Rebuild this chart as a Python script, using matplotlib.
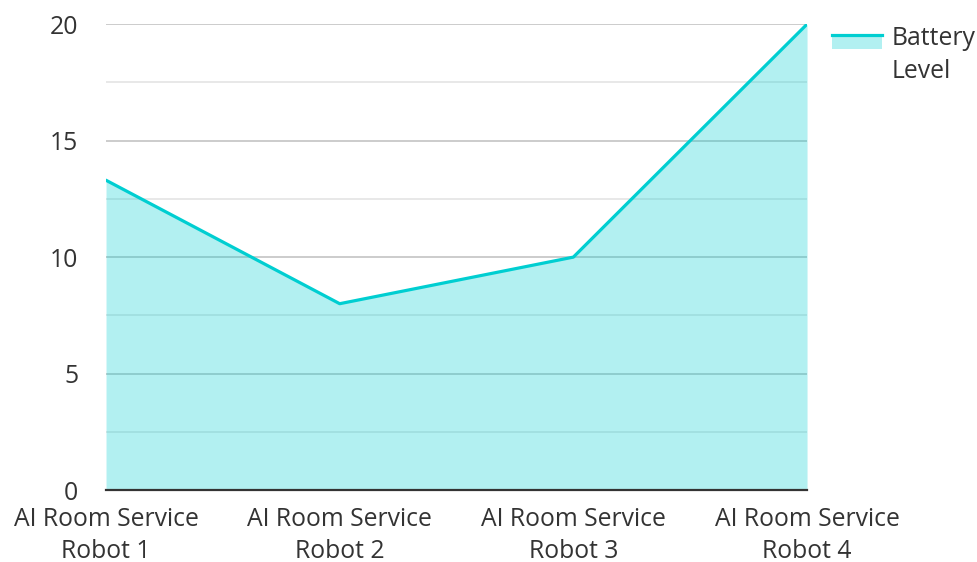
import numpy as np
import matplotlib.pyplot as plt
from matplotlib.lines import Line2D
from matplotlib.patches import Rectangle
from matplotlib.legend_handler import HandlerBase

robots = ['AI Room Service\nRobot 1', 'AI Room Service\nRobot 2',
          'AI Room Service\nRobot 3', 'AI Room Service\nRobot 4']
battery_level = [13.3, 8, 10, 20]

line_col = '#00CED1'
text_col = '#333333'

plt.rcParams['font.family'] = ['Open Sans', 'DejaVu Sans']


class AreaHandler(HandlerBase):
    # line on top of a filled block, like the area legend in the reference
    def create_artists(self, legend, orig_handle, xdescent, ydescent,
                       width, height, fontsize, trans):
        ytop = -ydescent + height * 0.85 + fontsize * 0.6
        r = Rectangle((-xdescent, ytop - height * 0.8), width, height * 0.8,
                      facecolor=line_col, alpha=0.3, edgecolor='none', transform=trans)
        ln = Line2D([-xdescent, -xdescent + width], [ytop, ytop],
                    color=line_col, linewidth=2.3, transform=trans)
        return [r, ln]


fig = plt.figure(figsize=(9.78, 5.62), dpi=100)
ax = fig.add_axes([0.1084, 0.128, 0.7168, 0.829])

x = np.arange(len(robots))
ax.fill_between(x, battery_level, 0, color=line_col, alpha=0.3, linewidth=0, zorder=2)
ax.plot(x, battery_level, color=line_col, linewidth=2.3, zorder=3, solid_capstyle='round')

ax.set_xlim(0, len(robots) - 1)
ax.set_ylim(0, 20)
ax.set_yticks([0, 5, 10, 15, 20])
ax.set_yticks([2.5, 7.5, 12.5, 17.5], minor=True)
ax.grid(axis='y', which='major', color='#c8c8c8', linewidth=1.3, zorder=1)
ax.grid(axis='y', which='minor', color='#e6e6e6', linewidth=1.3, zorder=1)
ax.set_axisbelow(True)

ax.set_xticks(x)
ax.set_xticklabels(robots, fontsize=17.8, color=text_col, linespacing=1.4)
ax.tick_params(axis='y', which='both', length=0, labelsize=17.8, labelcolor=text_col, pad=20)
ax.tick_params(axis='x', length=0, pad=12)

for s in ['top', 'right', 'left']:
    ax.spines[s].set_visible(False)
ax.spines['bottom'].set_color(text_col)
ax.spines['bottom'].set_linewidth(1.6)
ax.spines['bottom'].set_zorder(4)

leg = ax.legend([object()], ['Battery\nLevel'], handler_map={object: AreaHandler()},
                loc='upper left', bbox_to_anchor=(1.008, 1.039), frameon=False,
                fontsize=17.8, handlelength=2.0, handletextpad=0.4,
                labelcolor=text_col, borderpad=0.3)
leg.get_texts()[0].set_linespacing(1.45)

fig.savefig('out.png', dpi=100)
